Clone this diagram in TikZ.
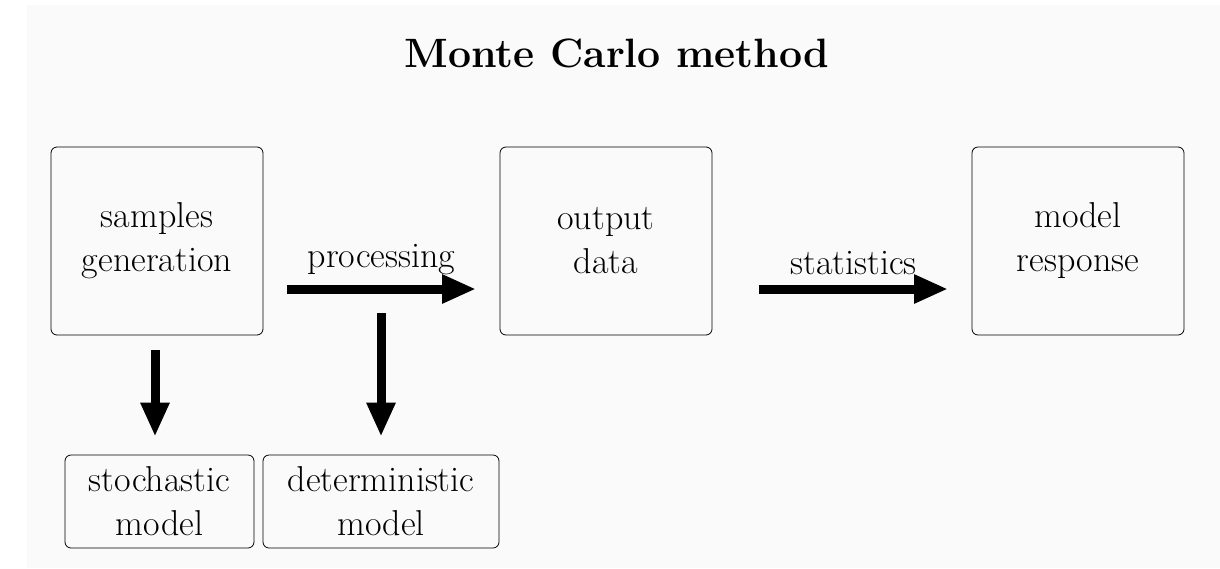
\documentclass[tikz,border=0pt]{standalone}
\usetikzlibrary{arrows.meta}
\begin{document}
\begin{tikzpicture}[x=1pt,y=-1pt,
  box/.style={draw,rounded corners=6pt,line width=0.8pt,align=center,font=\fontsize{36}{44}\selectfont},
  lab/.style={font=\fontsize{36}{44}\selectfont},
  fat/.style={line width=9pt,-{Triangle[length=34pt,width=27pt]}}]
\useasboundingbox (0,0) rectangle (1220,568);
\fill[gray!4] (27,5) rectangle (1220,568);
\node[font=\bfseries\fontsize{41}{48}\selectfont] (title) at (617,53) {Monte Carlo method};
\node[box,minimum width=212pt,minimum height=188pt] (sg) at (157,241) {samples\\generation};
\node[box,minimum width=212pt,minimum height=188pt] (od) at (606,241) {output\\data};
\node[box,minimum width=212pt,minimum height=188pt] (mr) at (1078,241) {model\\response};
\node[box,minimum width=189pt,minimum height=93pt] (sm) at (159.5,501.5) {stochastic\\model};
\node[box,minimum width=236pt,minimum height=93pt] (dm) at (381,501.5) {deterministic\\model};
\coordinate (p1) at (287,289); \coordinate (p2) at (476,289);
\coordinate (s1) at (759,289); \coordinate (s2) at (948,289);
\coordinate (v1) at (155,350); \coordinate (v2) at (381,313);
\draw[fat] (p1) -- (p2) node[midway,lab,above=6pt] (pl) {processing};
\draw[fat] (s1) -- (s2) node[midway,lab,above=6pt] (sl) {statistics};
\draw[fat] (v1) -- ([yshift=18pt]v1 |- sm.north);
\draw[fat] (v2) -- ([yshift=18pt]v2 |- dm.north);
\end{tikzpicture}
\end{document}
